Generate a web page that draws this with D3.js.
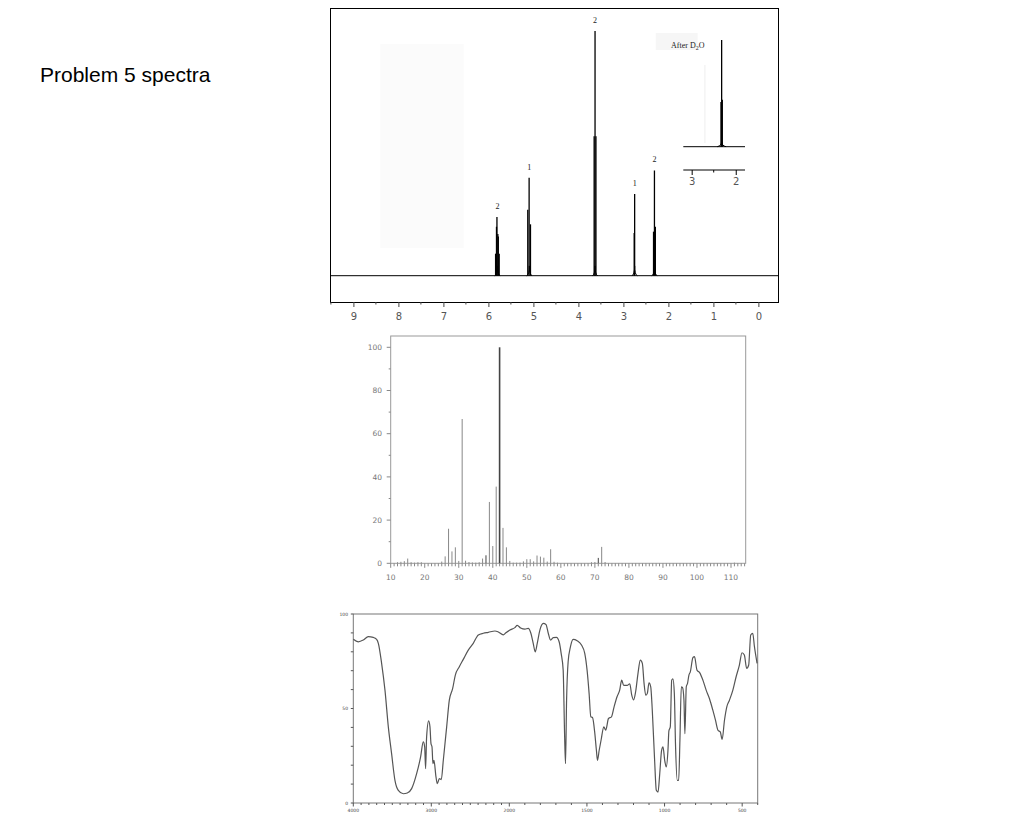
<!DOCTYPE html>
<html><head><meta charset="utf-8">
<script src="https://cdn.jsdelivr.net/npm/d3@7"></script>
<style>body{margin:0;background:#fff}svg{display:block}</style>
</head><body>
<svg id="c" width="1024" height="832"></svg>
<script>
// ---------- DATA ----------
// 1H NMR lines (ppm, relative height; tallest = 100)
const nmrPpm    = [5.84, 5.82, 5.81, 5.79, 5.78, 5.76, 5.125, 5.095, 5.065, 3.65, 3.63, 3.61, 2.76, 2.75, 2.33, 2.31, 2.29];
const nmrHeight = [9,    20,   24,   17,   16,   9,    27,    40,    21,    57,   100,  57,   17.5, 33.4, 18,   43,   20];
// integration labels
const nmrLabelPpm  = [5.80, 5.09, 3.63, 2.75, 2.31];
const nmrLabelText = ["2", "1", "2", "1", "2"];
const nmrLabelHeight = [24, 40, 100, 33.4, 43];
const nmrTicks = [9, 8, 7, 6, 5, 4, 3, 2, 1, 0];
// inset after D2O
const insetPpm    = [2.335, 2.32, 2.305];
const insetHeight = [42, 100, 44];
const insetTicks  = [3, 2];

// Mass spectrum (m/z, relative intensity)
const msMz =  [12, 13, 14, 15, 16, 17, 18, 19, 25, 26, 27, 28, 29, 30, 31, 32, 33, 34, 35, 36, 37, 38, 39, 40, 41, 42, 43, 44, 45, 46, 47, 48, 49, 50, 51, 52, 53, 54, 55, 56, 57, 58, 59, 69, 70, 71, 72, 73, 111];
const msInt = [0.5, 0.7, 1, 2.2, 0.5, 0.3, 0.5, 0.5, 0.8, 3.2, 16, 5.5, 7.4, 1.1, 66.8, 1.2, 0.6, 0.4, 0.3, 0.5, 2.2, 3.7, 28.4, 8, 35.5, 100, 16.4, 7.4, 1.1, 0.3, 0.3, 0.3, 0.9, 1.9, 1.9, 0.9, 3.6, 3.1, 2.6, 0.8, 6.5, 0.7, 0.3, 0.5, 0.6, 2.5, 7.6, 0.6, 0.3];
const msXTicks = [10, 20, 30, 40, 50, 60, 70, 80, 90, 100, 110];
const msYTicks = [0, 20, 40, 60, 80, 100];

// IR spectrum (wavenumber cm-1, %T)
const irWn = [4000,3936,3872,3808,3744,3701,3679,3637,3594,3551,3509,3466,3423,3359,3308,3252,3188,3137,3103,3085,3073,3060,3034,3017,3004,2991,2979,2966,2940,2923,2897,2872,2846,2803,2769,2726,2692,2641,2590,2526,2462,2397,2333,2269,2184,2141,2077,2043,1996,1964,1949,1927,1899,1878,1861,1846,1833,1820,1803,1781,1764,1749,1734,1717,1696,1679,1666,1653,1644,1638,1631,1621,1606,1589,1563,1535,1514,1499,1486,1475,1464,1449,1439,1432,1421,1409,1391,1379,1361,1342,1325,1306,1289,1276,1263,1241,1224,1212,1199,1186,1171,1156,1143,1132,1121,1111,1100,1089,1079,1064,1053,1042,1031,1019,1010,999,989,978,972,963,954,946,937,929,918,909,901,892,884,875,869,860,852,843,834,817,807,791,774,753,732,711,689,672,656,641,629,614,599,582,560,539,518,501,486,471,458,445,432,421,404];
const irT  = [86.6,85.3,86.2,88,87.6,86.6,84.5,73.9,59.7,40.3,26.1,12,6.7,4.9,5.3,7.6,15.5,24.4,32.3,29.7,18.2,35,43.5,40.3,31.4,29.7,20.8,22.6,13.8,10.2,12.9,12.4,22.6,40.3,54.4,60.6,67.7,72.1,76,80.9,84.5,88.9,89.8,90.3,91,90.5,89,90.1,91.5,92.8,94,92.6,92,92.4,89.8,84.5,80,84.5,91.5,95,94.5,89.8,86.2,87.5,87.6,85.3,79.2,70.3,36.7,20.8,54.4,74.7,82.7,86.6,85.9,83.6,79.2,70.3,58,45.6,45.2,36.7,27.9,22.6,27.9,33.2,40.3,38.5,44.7,45.6,50.9,56.2,59.7,65,62.2,62.2,63.1,57.4,54.6,59,68.6,75.6,73.9,63.3,57,58,63.6,61.5,49.1,22.6,6.7,5.8,15.5,27.9,29.7,22.6,19.1,27.9,38.2,40.3,65,65.7,58,29.7,12,12,33.2,61.5,61.1,54.4,36.7,61.5,63.3,67.7,69.4,77,77.4,70.3,69,65,59.7,55.3,49.1,43.8,38.5,37.6,33.6,43.8,50.9,54.4,59.7,66.8,73,79.5,78.3,71.2,73,88.9,89.8,82.7,73.9];
const irXTicks = [4000, 3000, 2000, 1500, 1000, 500];
const irYTicks = [0, 50, 100];

// ---------- DRAW ----------
const svg = d3.select("#c");

svg.append("text").attr("x", 40).attr("y", 82)
  .attr("font-family", "Liberation Sans, Arial, sans-serif").attr("font-size", 21)
  .attr("fill", "#000").text("Problem 5 spectra");

// ===== NMR =====
const nL = 330, nR = 779, nT = 8, nB = 302;
const nx = d3.scaleLinear().domain([9.52, -0.458]).range([nL, nR]);
const ny = d3.scaleLinear().domain([0, 100]).range([275.7, 31]);
const nmr = svg.append("g");
// faint background rectangles from original scan
nmr.append("rect").attr("x", nx(8.4)).attr("y", 44).attr("width", nx(6.55) - nx(8.4)).attr("height", 204).attr("fill", "#fbfbfb");
nmr.append("rect").attr("x", nx(2.28)).attr("y", 33).attr("width", nx(1.35) - nx(2.28)).attr("height", 17).attr("fill", "#f6f6f6");
nmr.append("rect").attr("x", nL + 0.5).attr("y", nT + 0.5).attr("width", nR - nL - 1).attr("height", nB - nT).attr("fill", "none").attr("stroke", "#000").attr("stroke-width", 1);
nmr.append("line").attr("x1", nL).attr("x2", nR).attr("y1", ny(0)).attr("y2", ny(0)).attr("stroke", "#000").attr("stroke-width", 1);
nmr.selectAll("line.pk").data(nmrPpm).join("line").attr("class", "pk")
  .attr("x1", d => nx(d)).attr("x2", d => nx(d))
  .attr("y1", ny(0)).attr("y2", (d, i) => ny(nmrHeight[i]))
  .attr("stroke", "#000").attr("stroke-width", 1.3);
// small peak feet
nmr.selectAll("path.ft").data(nmrLabelPpm).join("path").attr("class", "ft")
  .attr("d", d => `M${nx(d + 0.06)},${ny(0)} Q${nx(d)},${ny(0) - 1} ${nx(d)},${ny(4)} Q${nx(d)},${ny(0) - 1} ${nx(d - 0.06)},${ny(0)}`)
  .attr("fill", "none").attr("stroke", "#000").attr("stroke-width", 1);
nmr.selectAll("text.lb").data(nmrLabelText).join("text").attr("class", "lb")
  .attr("x", (d, i) => nx(nmrLabelPpm[i])).attr("y", (d, i) => ny(nmrLabelHeight[i]) - 8)
  .attr("text-anchor", "middle").attr("font-family", "Liberation Serif, serif").attr("font-size", 8)
  .attr("fill", "#222").text(d => d);
const nAxis = nmr.append("g").attr("transform", `translate(0,${nB})`)
  .call(d3.axisBottom(nx).tickValues(nmrTicks).tickSize(5).tickPadding(6).tickFormat(d3.format("d")));
nAxis.select(".domain").remove();
nAxis.selectAll("line").attr("stroke", "#444");
nAxis.selectAll("text").attr("font-family", "DejaVu Sans, sans-serif").attr("font-size", 10).attr("fill", "#555");
const nMinor = d3.range(9.5, -0.4, -0.5).filter(v => !nmrTicks.includes(v));
nmr.selectAll("line.mn").data(nMinor).join("line").attr("class", "mn")
  .attr("x1", d => nx(d)).attr("x2", d => nx(d)).attr("y1", nB).attr("y2", nB + 2.5).attr("stroke", "#444");

// inset
const ix = d3.scaleLinear().domain([3.19, 1.79]).range([683.3, 745]);
const iy = d3.scaleLinear().domain([0, 100]).range([146.7, 40]);
nmr.append("line").attr("x1", ix(3.19)).attr("x2", ix(1.79)).attr("y1", iy(0)).attr("y2", iy(0)).attr("stroke", "#000");
nmr.append("line").attr("x1", ix(2.7)).attr("x2", ix(2.7)).attr("y1", 65).attr("y2", 143).attr("stroke", "#eee");
nmr.selectAll("line.ipk").data(insetPpm).join("line").attr("class", "ipk")
  .attr("x1", d => ix(d)).attr("x2", d => ix(d)).attr("y1", iy(0)).attr("y2", (d, i) => iy(insetHeight[i]))
  .attr("stroke", "#000").attr("stroke-width", 1.3);
nmr.append("path")
  .attr("d", `M${ix(2.42)},${iy(0)} Q${ix(2.32)},${iy(0) - 1} ${ix(2.32)},${iy(5)} Q${ix(2.32)},${iy(0) - 1} ${ix(2.22)},${iy(0)}`)
  .attr("fill", "none").attr("stroke", "#000");
const iAxis = nmr.append("g").attr("transform", "translate(0,170)")
  .call(d3.axisBottom(ix).tickValues(insetTicks).tickSize(5).tickPadding(3).tickFormat(d3.format("d")));
iAxis.select(".domain").attr("d", `M${ix(3.19)},0H${ix(1.79)}`).attr("stroke", "#000");
iAxis.selectAll("line").attr("stroke", "#000");
iAxis.selectAll("text").attr("font-family", "DejaVu Sans, sans-serif").attr("font-size", 10).attr("fill", "#555");
nmr.append("line").attr("x1", ix(2.5)).attr("x2", ix(2.5)).attr("y1", 170).attr("y2", 172.5).attr("stroke", "#000");
const ad = nmr.append("text").attr("x", 671).attr("y", 48).attr("font-family", "Liberation Serif, serif").attr("font-size", 8).attr("fill", "#222");
ad.append("tspan").text("After D");
ad.append("tspan").attr("font-size", 6).attr("dy", 2).text("2");
ad.append("tspan").attr("dy", -2).text("O");

// ===== Mass spectrum =====
const mL = 390.7, mR = 745.7, mT = 336, mB = 563.3;
const mx = d3.scaleLinear().domain([10, 110]).range([390.7, 731]);
const my = d3.scaleLinear().domain([0, 100]).range([mB, 347.3]);
const ms = svg.append("g");
ms.append("rect").attr("x", mL).attr("y", mT).attr("width", mR - mL).attr("height", mB - mT)
  .attr("fill", "none").attr("stroke", "#999").attr("stroke-width", 1);
ms.selectAll("line.bar").data(msMz).join("line").attr("class", "bar")
  .attr("x1", d => mx(d)).attr("x2", d => mx(d)).attr("y1", mB).attr("y2", (d, i) => my(msInt[i]))
  .attr("stroke", (d, i) => (msInt[i] === 100 || d === 38 || d === 71) ? "#444" : "#888")
  .attr("stroke-width", (d, i) => msInt[i] === 100 ? 1.6 : 1);
ms.selectAll("line.mxt").data(d3.range(10, 115)).join("line").attr("class", "mxt")
  .attr("x1", d => mx(d)).attr("x2", d => mx(d)).attr("y1", mB)
  .attr("y2", d => mB + (d % 10 === 0 ? 4.5 : 3)).attr("stroke", "#888");
ms.selectAll("text.mxl").data(msXTicks).join("text").attr("class", "mxl")
  .attr("x", d => mx(d)).attr("y", 580).attr("text-anchor", "middle")
  .attr("font-family", "DejaVu Sans, sans-serif").attr("font-size", 7.5).attr("fill", "#777").text(d => d);
ms.selectAll("line.myt").data(d3.range(0, 101, 10)).join("line").attr("class", "myt")
  .attr("x1", mL).attr("x2", d => mL - (d % 20 === 0 ? 4 : 2)).attr("y1", d => my(d)).attr("y2", d => my(d)).attr("stroke", "#888");
ms.selectAll("text.myl").data(msYTicks).join("text").attr("class", "myl")
  .attr("x", 382).attr("y", d => my(d) + 2.7).attr("text-anchor", "end")
  .attr("font-family", "DejaVu Sans, sans-serif").attr("font-size", 7.5).attr("fill", "#777").text(d => d);

// ===== IR =====
const rL = 353.3, rR = 757.7, rT = 614, rB = 803;
const rx = d3.scaleLinear().domain([4000, 2000, 400]).range([353.3, 509.3, 757.7]);
const ry = d3.scaleLinear().domain([0, 100]).range([rB, rT]);
const ir = svg.append("g");
ir.append("rect").attr("x", rL).attr("y", rT).attr("width", rR - rL).attr("height", rB - rT)
  .attr("fill", "none").attr("stroke", "#777").attr("stroke-width", 1);
ir.selectAll("line.rxt").data(d3.range(4000, 399, -100)).join("line").attr("class", "rxt")
  .attr("x1", d => rx(d)).attr("x2", d => rx(d)).attr("y1", rB).attr("y2", d => rB + (irXTicks.includes(d) ? 3.5 : 2)).attr("stroke", "#555");
ir.selectAll("line.ryt").data(d3.range(0, 101, 10)).join("line").attr("class", "ryt")
  .attr("x1", rL).attr("x2", rL - 2.5).attr("y1", d => ry(d)).attr("y2", d => ry(d)).attr("stroke", "#555");
ir.selectAll("text.rxl").data(irXTicks).join("text").attr("class", "rxl")
  .attr("x", d => rx(d)).attr("y", 812).attr("text-anchor", "middle")
  .attr("font-family", "DejaVu Sans, sans-serif").attr("font-size", 4.5).attr("fill", "#444").text(d => d);
ir.selectAll("text.ryl").data(irYTicks).join("text").attr("class", "ryl")
  .attr("x", 348).attr("y", d => ry(d) + 1.6).attr("text-anchor", "end")
  .attr("font-family", "DejaVu Sans, sans-serif").attr("font-size", 4.5).attr("fill", "#444").text(d => d);
const irLine = d3.line().x(d => rx(d)).y((d, i) => ry(irT[i])).curve(d3.curveMonotoneX);
ir.append("path").attr("d", irLine(irWn)).attr("fill", "none").attr("stroke", "#555").attr("stroke-width", 1.2).attr("stroke-linejoin", "round");
</script>
</body></html>
